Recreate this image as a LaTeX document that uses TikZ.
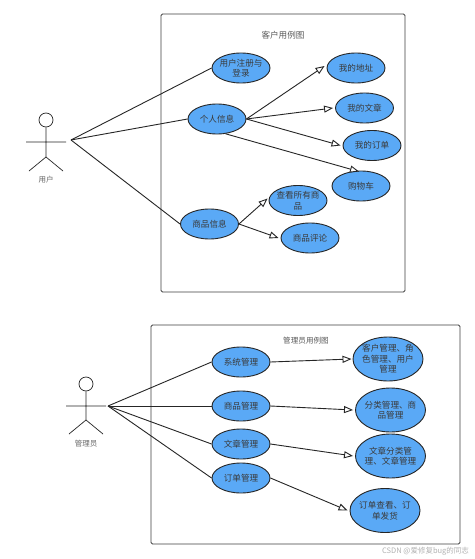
\documentclass[tikz,border=0pt]{standalone}
\usepackage{fontspec}
\setmainfont{Noto Sans CJK SC}
\usetikzlibrary{arrows.meta,shapes.geometric}
\definecolor{caseblue}{HTML}{5AA9F6}
\definecolor{inkgray}{HTML}{3A3A3A}
\begin{document}
\begin{tikzpicture}[x=1pt,y=-1pt,
		usecase/.style={ellipse,draw=black!85,line width=0.9pt,fill=caseblue,text=inkgray,font=\fontsize{8.6}{10.5}\selectfont,align=center,inner xsep=-8pt,inner ysep=-4pt,minimum width=58pt,minimum height=30pt},
		bigcase/.style={usecase,minimum width=70pt,minimum height=44pt},
		sysbox/.style={draw=black!75,line width=0.9pt,rounded corners=1.5pt},
		boxtitle/.style={text=black!65,font=\fontsize{8.6}{10}\selectfont},
		actorhead/.style={circle,draw=black!85,line width=0.7pt,fill=white,inner sep=0pt,minimum size=14pt},
		actorlimb/.style={draw=black!85,line width=0.7pt},
		actorname/.style={text=black!60,font=\fontsize{7.5}{8}\selectfont},
		assoc/.style={draw=black!85,line width=0.9pt},
		include/.style={assoc,-{Triangle[open,fill=white,length=9pt,width=7pt]}}
	]
	\useasboundingbox (0,0) rectangle (474,559);
	\fill[white] (0,0) rectangle (474,559);

	% customer
	\draw[sysbox] (161,14) rectangle (405,292);
	\node[boxtitle] (kehutitle) at (283,35) {客户用例图};
	\node[actorhead] (userhead) at (46,120) {};
	\path
	(46,157) coordinate (userhip)
	(26,142) coordinate (userarml)
	(66,142) coordinate (userarmr)
	(29,171) coordinate (userlegl)
	(63,171) coordinate (userlegr)
	(71,140) coordinate (userport)
	;
	\draw[actorlimb] (userhead) -- (userhip) (userarml) -- (userarmr) (userlegl) -- (userhip) -- (userlegr);
	\node[actorname] (username) at (46,180) {用户};

	\node[usecase] (login) at (241,68) {用户注册与\\登录};
	\node[usecase] (info) at (217,119) {个人信息};
	\node[usecase] (goods) at (209.5,224) {商品信息};
	\node[usecase] (address) at (356,68) {我的地址};
	\node[usecase] (article) at (364.5,108) {我的文章};
	\node[usecase] (order) at (372,145.5) {我的订单};
	\node[usecase] (cart) at (361,186) {购物车};
	\node[usecase] (allgoods) at (298,200.5) {查看所有商\\品};
	\node[usecase] (comment) at (310,238) {商品评论};

	\draw[assoc] (userport) -- (login.west);
	\draw[assoc] (userport) -- (info.west);
	\draw[assoc] (userport) -- (goods.west);
	\draw[include] (info.east) -- ([xshift=-2pt,yshift=2pt]address.west);
	\draw[include] (info.east) -- ([xshift=-2pt]article.west);
	\draw[include] (info.east) -- ([xshift=-2pt]order.west);
	\draw[include] (info.-60) -- ([xshift=-2pt,yshift=-1pt]cart.north);
	\draw[include] (goods.east) -- ([xshift=-1pt,yshift=2pt]allgoods.west);
	\draw[include] (goods.east) -- ([xshift=-2pt]comment.west);

	% admin
	\draw[sysbox] (151,325) rectangle (460,544);
	\node[boxtitle,font=\fontsize{7.6}{9}\selectfont] (admintitle) at (306,341) {管理员用例图};
	\node[actorhead] (adminhead) at (86,384) {};
	\path
	(86,420) coordinate (adminhip)
	(66,406) coordinate (adminarml)
	(106,406) coordinate (adminarmr)
	(69,434) coordinate (adminlegl)
	(103,434) coordinate (adminlegr)
	(108,406) coordinate (adminport)
	;
	\draw[actorlimb] (adminhead) -- (adminhip) (adminarml) -- (adminarmr) (adminlegl) -- (adminhip) -- (adminlegr);
	\node[actorname] (adminname) at (86,444) {管理员};

	\node[usecase] (system) at (241,362) {系统管理};
	\node[usecase] (product) at (241,406) {商品管理};
	\node[usecase] (post) at (241,444) {文章管理};
	\node[usecase] (orders) at (241,478) {订单管理};
	\node[bigcase] (systemsub) at (388,359) {客户管理、角\\色管理、用户\\管理};
	\node[bigcase] (productsub) at (390.5,410) {分类管理、商\\品管理};
	\node[bigcase] (postsub) at (390.5,456) {文章分类管\\理、文章管理};
	\node[bigcase] (orderssub) at (385,510.5) {订单查看、订\\单发货};

	\draw[assoc] (adminport) -- (system.west);
	\draw[assoc] (adminport) -- (product.west);
	\draw[assoc] (adminport) -- (post.west);
	\draw[assoc] (adminport) -- (orders.west);
	\draw[include] (system.east) -- ([xshift=-1pt]systemsub.west);
	\draw[include] (product.east) -- ([xshift=-2pt]productsub.west);
	\draw[include] (post.east) -- ([xshift=-2pt]postsub.west);
	\draw[include] (orders.east) -- ([xshift=-2pt]orderssub.west);

	\node[text=black!30,font=\fontsize{7.5}{8}\selectfont] (mark) at (425.5,551.5) {CSDN @爱修复bug的同志};
\end{tikzpicture}
\end{document}
